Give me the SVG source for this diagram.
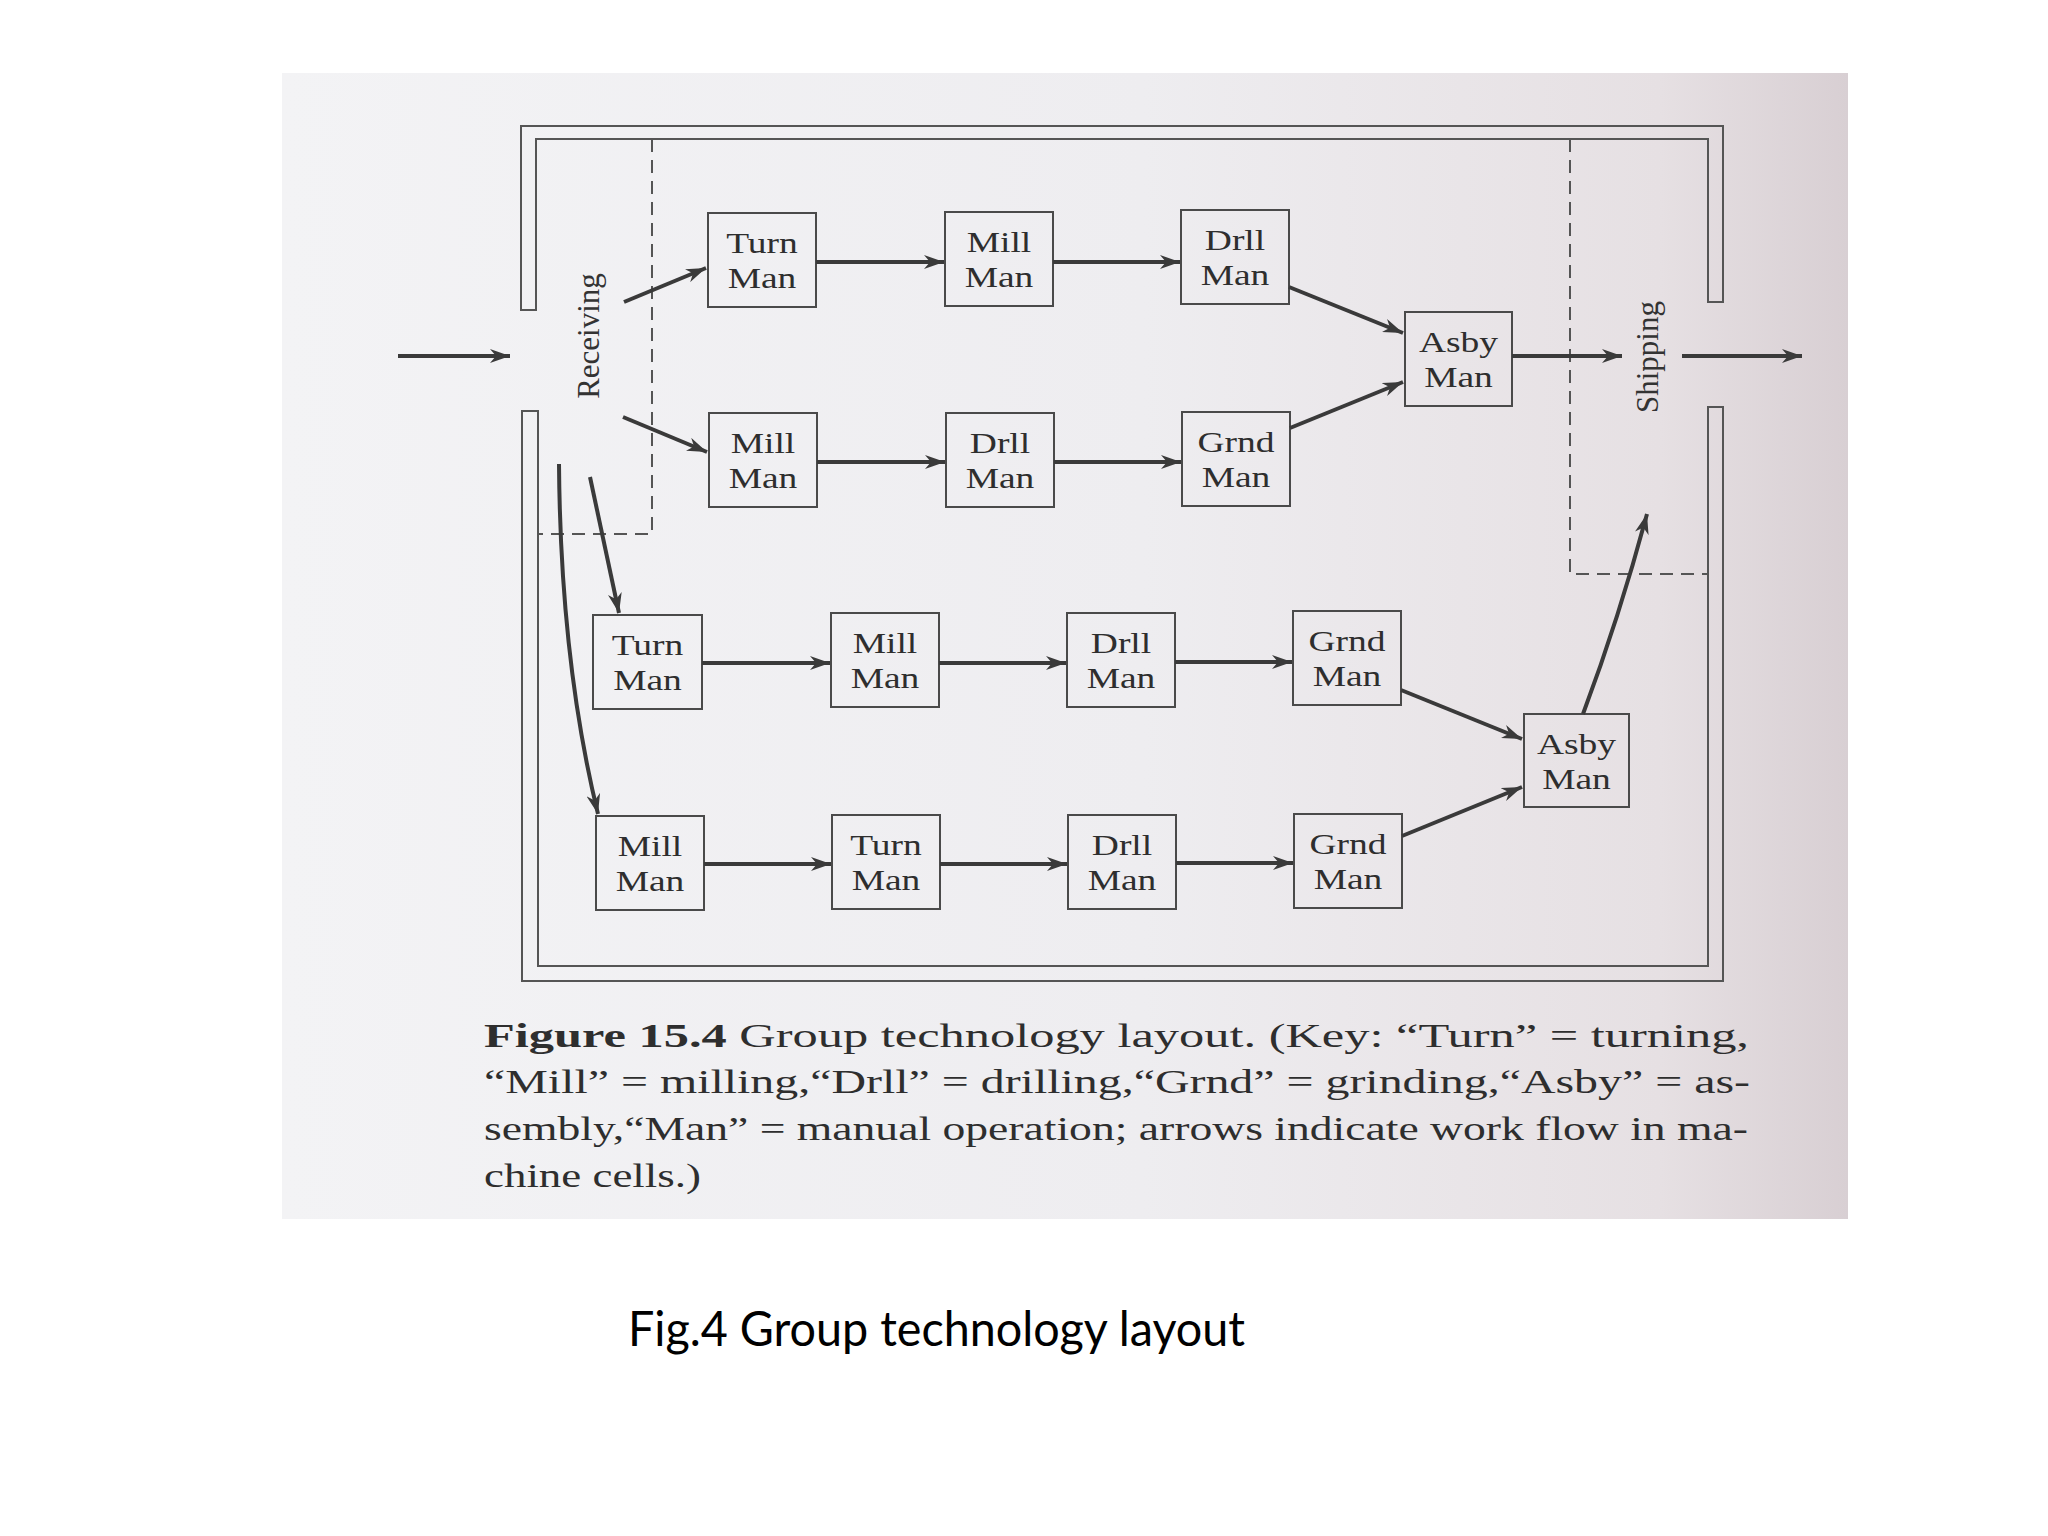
<svg xmlns="http://www.w3.org/2000/svg" width="2048" height="1536" viewBox="0 0 2048 1536">
<defs>
<linearGradient id="scan" x1="0" y1="0" x2="1" y2="0">
<stop offset="0" stop-color="#f3f3f5"/>
<stop offset="0.55" stop-color="#eeedf0"/>
<stop offset="0.88" stop-color="#e6e0e3"/>
<stop offset="1" stop-color="#d8cfd3"/>
</linearGradient>
<marker id="ah" markerUnits="userSpaceOnUse" markerWidth="22" markerHeight="14" refX="20" refY="7" orient="auto">
<path d="M0,0 L20,7 L0,14 L6,7 Z" fill="#3a3a3a"/>
</marker>
<style>
.wall{fill:none;stroke:#555;stroke-width:2;stroke-linejoin:miter}
.dash{fill:none;stroke:#555;stroke-width:2;stroke-dasharray:13 8}
.box{fill:none;stroke:#4a4a4a;stroke-width:2}
.lbl{font-family:"Liberation Serif","Times New Roman",serif;font-size:30px;fill:#2e2e2e;text-anchor:middle}
.zone{font-family:"Liberation Serif","Times New Roman",serif;font-size:31px;fill:#333;text-anchor:middle}
.arr{fill:none;stroke:#3a3a3a;stroke-width:4;marker-end:url(#ah)}
.cap{font-family:"Liberation Serif","Times New Roman",serif;font-size:34px;fill:#2e2e2e}
.sub{font-family:Lato,"Open Sans",sans-serif;font-size:48px;fill:#000}
</style>
</defs>
<rect width="2048" height="1536" fill="#fff"/>
<rect x="282" y="73" width="1566" height="1146" fill="url(#scan)"/>

<g id="walls">
<path class="wall" d="M521,310 L521,126 L1723,126 L1723,302 L1708,302 L1708,139 L536,139 L536,310 Z"/>
<path class="wall" d="M522,411 L522,981 L1723,981 L1723,407 L1708,407 L1708,966 L538,966 L538,411 Z"/>
<path class="dash" d="M652,139 L652,534 L538,534"/>
<path class="dash" d="M1570,139 L1570,574 L1708,574"/>
</g>

<g id="zones">
<text class="zone" transform="translate(599,336) rotate(-90)">Receiving</text>
<text class="zone" transform="translate(1658,357) rotate(-90)">Shipping</text>
</g>

<g id="n1"><rect class="box" x="708" y="213" width="108" height="94"/><text class="lbl" transform="translate(762,213) scale(1.25,1)"><tspan x="0" y="40">Turn</tspan><tspan x="0" y="75">Man</tspan></text></g>
<g id="n2"><rect class="box" x="945" y="212" width="108" height="94"/><text class="lbl" transform="translate(999,212) scale(1.25,1)"><tspan x="0" y="40">Mill</tspan><tspan x="0" y="75">Man</tspan></text></g>
<g id="n3"><rect class="box" x="1181" y="210" width="108" height="94"/><text class="lbl" transform="translate(1235,210) scale(1.25,1)"><tspan x="0" y="40">Drll</tspan><tspan x="0" y="75">Man</tspan></text></g>
<g id="n4"><rect class="box" x="1405" y="312" width="107" height="94"/><text class="lbl" transform="translate(1458.5,312) scale(1.25,1)"><tspan x="0" y="40">Asby</tspan><tspan x="0" y="75">Man</tspan></text></g>
<g id="n5"><rect class="box" x="709" y="413" width="108" height="94"/><text class="lbl" transform="translate(763,413) scale(1.25,1)"><tspan x="0" y="40">Mill</tspan><tspan x="0" y="75">Man</tspan></text></g>
<g id="n6"><rect class="box" x="946" y="413" width="108" height="94"/><text class="lbl" transform="translate(1000,413) scale(1.25,1)"><tspan x="0" y="40">Drll</tspan><tspan x="0" y="75">Man</tspan></text></g>
<g id="n7"><rect class="box" x="1182" y="412" width="108" height="94"/><text class="lbl" transform="translate(1236,412) scale(1.25,1)"><tspan x="0" y="40">Grnd</tspan><tspan x="0" y="75">Man</tspan></text></g>
<g id="n8"><rect class="box" x="593" y="615" width="109" height="94"/><text class="lbl" transform="translate(647.5,615) scale(1.25,1)"><tspan x="0" y="40">Turn</tspan><tspan x="0" y="75">Man</tspan></text></g>
<g id="n9"><rect class="box" x="831" y="613" width="108" height="94"/><text class="lbl" transform="translate(885,613) scale(1.25,1)"><tspan x="0" y="40">Mill</tspan><tspan x="0" y="75">Man</tspan></text></g>
<g id="n10"><rect class="box" x="1067" y="613" width="108" height="94"/><text class="lbl" transform="translate(1121,613) scale(1.25,1)"><tspan x="0" y="40">Drll</tspan><tspan x="0" y="75">Man</tspan></text></g>
<g id="n11"><rect class="box" x="1293" y="611" width="108" height="94"/><text class="lbl" transform="translate(1347,611) scale(1.25,1)"><tspan x="0" y="40">Grnd</tspan><tspan x="0" y="75">Man</tspan></text></g>
<g id="n12"><rect class="box" x="1524" y="714" width="105" height="93"/><text class="lbl" transform="translate(1576.5,714) scale(1.25,1)"><tspan x="0" y="40">Asby</tspan><tspan x="0" y="75">Man</tspan></text></g>
<g id="n13"><rect class="box" x="596" y="816" width="108" height="94"/><text class="lbl" transform="translate(650,816) scale(1.25,1)"><tspan x="0" y="40">Mill</tspan><tspan x="0" y="75">Man</tspan></text></g>
<g id="n14"><rect class="box" x="832" y="815" width="108" height="94"/><text class="lbl" transform="translate(886,815) scale(1.25,1)"><tspan x="0" y="40">Turn</tspan><tspan x="0" y="75">Man</tspan></text></g>
<g id="n15"><rect class="box" x="1068" y="815" width="108" height="94"/><text class="lbl" transform="translate(1122,815) scale(1.25,1)"><tspan x="0" y="40">Drll</tspan><tspan x="0" y="75">Man</tspan></text></g>
<g id="n16"><rect class="box" x="1294" y="814" width="108" height="94"/><text class="lbl" transform="translate(1348,814) scale(1.25,1)"><tspan x="0" y="40">Grnd</tspan><tspan x="0" y="75">Man</tspan></text></g>

<g id="connectors">
<path class="arr" d="M398,356 L510,356"/>
<path class="arr" d="M624,302 L706,268"/>
<path class="arr" d="M623,417 L707,452"/>
<path class="arr" d="M816,262 L944,262"/>
<path class="arr" d="M1053,262 L1180,262"/>
<path class="arr" d="M1289,287 L1403,333"/>
<path class="arr" d="M817,462 L945,462"/>
<path class="arr" d="M1054,462 L1181,462"/>
<path class="arr" d="M1290,428 L1403,382"/>
<path class="arr" d="M1512,356 L1622,356"/>
<path class="arr" d="M1682,356 L1802,356"/>
<path class="arr" d="M590,477 L619,613"/>
<path class="arr" d="M559,464 C560,600 575,720 598,814"/>
<path class="arr" d="M702,663 L830,663"/>
<path class="arr" d="M939,663 L1066,663"/>
<path class="arr" d="M1175,662 L1292,662"/>
<path class="arr" d="M1401,690 L1522,739"/>
<path class="arr" d="M704,864 L831,864"/>
<path class="arr" d="M940,864 L1067,864"/>
<path class="arr" d="M1176,863 L1293,863"/>
<path class="arr" d="M1402,836 L1522,787"/>
<path class="arr" d="M1583,714 Q1619,618 1647,514"/>
</g>

<g id="caption">
<text class="cap" x="484" y="1047" textLength="1265" lengthAdjust="spacingAndGlyphs"><tspan font-weight="bold">Figure 15.4</tspan> Group  technology  layout. (Key: “Turn” = turning,</text>
<text class="cap" x="484" y="1093" textLength="1266" lengthAdjust="spacingAndGlyphs">“Mill” = milling,“Drll” = drilling,“Grnd” = grinding,“Asby” = as-</text>
<text class="cap" x="484" y="1140" textLength="1264" lengthAdjust="spacingAndGlyphs">sembly,“Man” = manual operation; arrows indicate work flow in ma-</text>
<text class="cap" x="484" y="1187" textLength="217" lengthAdjust="spacingAndGlyphs">chine cells.)</text>
</g>

<text class="sub" x="628" y="1346" textLength="617" lengthAdjust="spacingAndGlyphs">Fig.4 Group technology layout</text>
</svg>
